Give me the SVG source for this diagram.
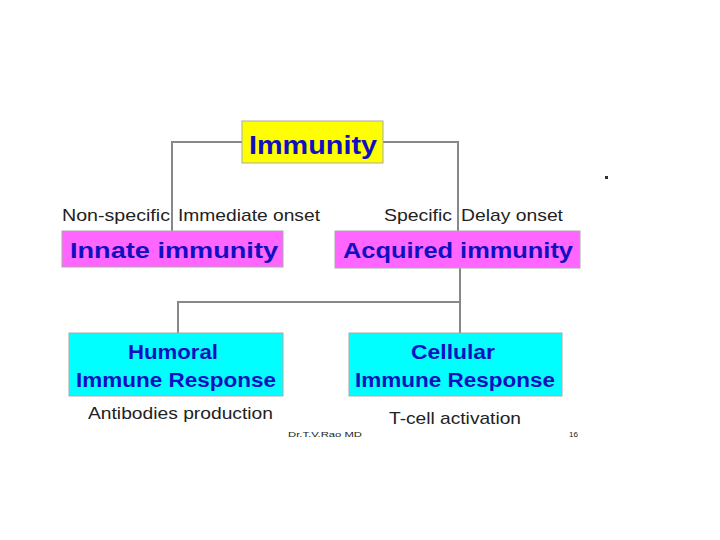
<svg xmlns="http://www.w3.org/2000/svg" width="720" height="540" viewBox="0 0 720 540">
<style>
.b{font-family:"Liberation Sans",Arial,sans-serif;font-weight:bold;fill:#1010c0;text-anchor:middle}
.l{font-family:"Liberation Sans",Arial,sans-serif;fill:#222}
.c{stroke:#888;stroke-width:2;fill:none}
</style>
<rect width="720" height="540" fill="#fff"/>
<g id="connectors">
<path class="c" d="M242 142H172V232"/>
<path class="c" d="M383 142H458V232"/>
<path class="c" d="M460 268V333M460 302H178V333"/>
</g>
<g id="immunity"><rect x="242" y="121" width="141" height="42" fill="#ffff00" stroke="#aaa"/><text class="b" x="313" y="154" font-size="26" textLength="128" lengthAdjust="spacingAndGlyphs">Immunity</text></g>
<g id="innate"><rect x="62" y="231" width="221" height="36" fill="#ff66ff" stroke="#aaa"/><text class="b" x="174" y="258" font-size="22" textLength="208" lengthAdjust="spacingAndGlyphs">Innate immunity</text></g>
<g id="acquired"><rect x="335" y="231" width="245" height="37" fill="#ff66ff" stroke="#aaa"/><text class="b" x="458" y="258" font-size="22" textLength="230" lengthAdjust="spacingAndGlyphs">Acquired immunity</text></g>
<g id="humoral"><rect x="69" y="333" width="214" height="63" fill="#00ffff" stroke="#aaa"/><text class="b" x="173" y="359" font-size="20" textLength="90" lengthAdjust="spacingAndGlyphs">Humoral</text><text class="b" x="176" y="387" font-size="20" textLength="200" lengthAdjust="spacingAndGlyphs">Immune Response</text></g>
<g id="cellular"><rect x="349" y="333" width="213" height="63" fill="#00ffff" stroke="#aaa"/><text class="b" x="453" y="359" font-size="20" textLength="84" lengthAdjust="spacingAndGlyphs">Cellular</text><text class="b" x="455" y="387" font-size="20" textLength="200" lengthAdjust="spacingAndGlyphs">Immune Response</text></g>
<text class="l" x="62" y="221" font-size="17" textLength="108" lengthAdjust="spacingAndGlyphs">Non-specific</text>
<text class="l" x="178" y="221" font-size="17" textLength="142" lengthAdjust="spacingAndGlyphs">Immediate onset</text>
<text class="l" x="384" y="221" font-size="17" textLength="68" lengthAdjust="spacingAndGlyphs">Specific</text>
<text class="l" x="461" y="221" font-size="17" textLength="102" lengthAdjust="spacingAndGlyphs">Delay onset</text>
<text class="l" x="88" y="419" font-size="17" textLength="185" lengthAdjust="spacingAndGlyphs">Antibodies production</text>
<text class="l" x="389" y="424" font-size="17" textLength="132" lengthAdjust="spacingAndGlyphs">T-cell activation</text>
<text class="l" x="288" y="437" font-size="8" textLength="74" lengthAdjust="spacingAndGlyphs">Dr.T.V.Rao MD</text>
<text class="l" x="569" y="437" font-size="8">16</text>
<rect x="605" y="176" width="3" height="3" fill="#333"/>
</svg>
